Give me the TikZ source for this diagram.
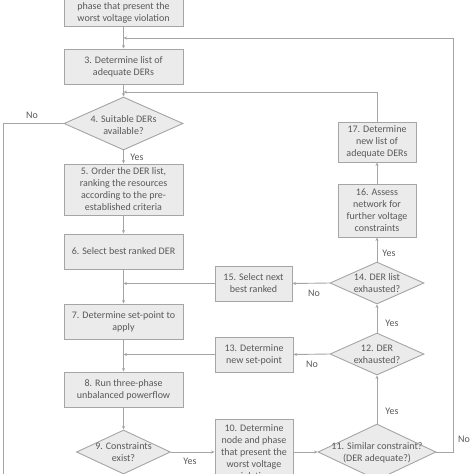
\documentclass[tikz,border=0pt]{standalone}
\usepackage{fontspec}
\setmainfont{Carlito}
\usetikzlibrary{shapes.geometric,arrows.meta}
\definecolor{boxfill}{HTML}{EBEBEB}
\definecolor{boxline}{HTML}{A5A5A5}
\definecolor{txt}{HTML}{595959}
\begin{document}
\begin{tikzpicture}[x=1pt,y=-1pt,
  box/.style={draw=boxline, fill=boxfill, line width=0.9pt, text=txt,
    font=\fontsize{10}{12}\selectfont, align=center, inner sep=0pt,
    minimum width=119pt},
  sbox/.style={box, minimum width=78pt},
  dec/.style={diamond, draw=boxline, fill=boxfill, line width=0.9pt, inner sep=0pt},
  txtn/.style={text=txt, font=\fontsize{10}{12}\selectfont, align=center, inner sep=0pt},
  conn/.style={draw=boxline, line width=0.9pt},
  arr/.style={conn, -{Stealth[length=3.5pt,width=3pt]}},
  lbl/.style={text=txt, font=\fontsize{10}{12}\selectfont, inner sep=0pt}]
\useasboundingbox (0,0) rectangle (474,474);
\clip (0,0) rectangle (474,474);

% boxes, left column
\node[box, minimum height=46pt] (b2) at (123.5,3) {};
\node[txtn] (t2) at (123.5,13) {phase that present the\\worst voltage violation};
\node[box, minimum height=35pt] (b3) at (123.5,66.5) {3. Determine list of\\adequate DERs};
\node[dec, minimum width=119pt, minimum height=53pt] (d4) at (123.5,123.5) {};
\node[txtn] (t4) at (123.5,125) {4. Suitable DERs\\available?};
\node[box, minimum height=51pt] (b5) at (123.5,189.5) {5. Order the DER list,\\ranking the resources\\according to the pre-\\established criteria};
\node[box, minimum height=35pt] (b6) at (123.5,251.5) {6. Select best ranked DER};
\node[box, minimum height=35pt] (b7) at (123.5,321.5) {7. Determine set-point to\\apply};
\node[box, minimum height=35pt] (b8) at (123.5,389.5) {8. Run three-phase\\unbalanced powerflow};
\node[dec, minimum width=94pt, minimum height=44pt] (d9) at (123.5,452) {};
\node[txtn] (t9) at (123.5,452) {9. Constraints\\exist?};

% middle column
\node[sbox, minimum height=66pt] (b10) at (254,452) {10. Determine\\node and phase\\that present the\\worst voltage\\violation};
\node[sbox, minimum height=35pt] (b13) at (254,354.5) {13. Determine\\new set-point};
\node[sbox, minimum height=35pt, minimum width=77pt] (b15) at (253.5,283.5) {15. Select next\\best ranked};

% right column
\node[dec, minimum width=118pt, minimum height=56pt] (d11) at (377,452) {};
\node[txtn] (t11) at (377,452.5) {11. Similar constraint?\\(DER adequate?)};
\node[dec, minimum width=94pt, minimum height=42pt] (d12) at (377,354) {};
\node[txtn] (t12) at (377,354) {12. DER\\exhausted?};
\node[dec, minimum width=94pt, minimum height=42pt] (d14) at (377,283) {};
\node[txtn] (t14) at (377,283.5) {14. DER list\\exhausted?};
\node[sbox, minimum height=53pt] (b16) at (377,210.5) {16. Assess\\network for\\further voltage\\constraints};
\node[sbox, minimum height=40pt] (b17) at (377,142) {17. Determine\\new list of\\adequate DERs};

% junctions and corners
\coordinate (j1) at (123.5,38);
\coordinate (j2) at (123.5,92);
\coordinate (j3) at (123.5,283.5);
\coordinate (j4) at (123.5,354.5);
\coordinate (r1) at (453,452);
\coordinate (r2) at (453,38);
\coordinate (k1) at (377,92);
\coordinate (l1) at (3,123.5);
\coordinate (l2) at (3,490);
\coordinate (e9) at (123.5,490);
\coordinate (e11) at (377,490);

% connectors
\draw[arr] (b2) -- (b3);
\draw[arr] (b3) -- (d4);
\draw[arr] (d4) -- (b5);
\draw[arr] (b5) -- (b6);
\draw[arr] (b6) -- (b7);
\draw[arr] (b7) -- (b8);
\draw[arr] (b8) -- (d9);
\draw[conn] (d9.south) -- (e9);
\draw[arr] (d9.east) -- (b10.west);
\draw[arr] (b10.east) -- (d11.west);
\draw[conn] (d11.south) -- (e11);
\draw[arr] (d11.north) -- (d12.south);
\draw[arr] (d12.west) -- (b13.east);
\draw[arr] (d12.north) -- (d14.south);
\draw[arr] (d14.west) -- (b15.east);
\draw[arr] (d14.north) -- (b16.south);
\draw[arr] (b16.north) -- (b17.south);
\draw[arr] (b17.north) -- (k1) -- (j2);
\draw[arr] (b15.west) -- (j3);
\draw[arr] (b13.west) -- (j4);
\draw[arr] (d11.east) -- (r1) -- (r2) -- (j1);
\draw[conn] (d4.west) -- (l1) -- (l2);

% labels
\node[lbl] (n4) at (32,115) {No};
\node[lbl] (y4) at (137,157) {Yes};
\node[lbl] (y9) at (190,461) {Yes};
\node[lbl] (n11) at (464,439) {No};
\node[lbl] (y11) at (392,411) {Yes};
\node[lbl] (n12) at (312,364) {No};
\node[lbl] (y12) at (392,323) {Yes};
\node[lbl] (n14) at (314,293) {No};
\node[lbl] (y14) at (389,253) {Yes};
\end{tikzpicture}
\end{document}
